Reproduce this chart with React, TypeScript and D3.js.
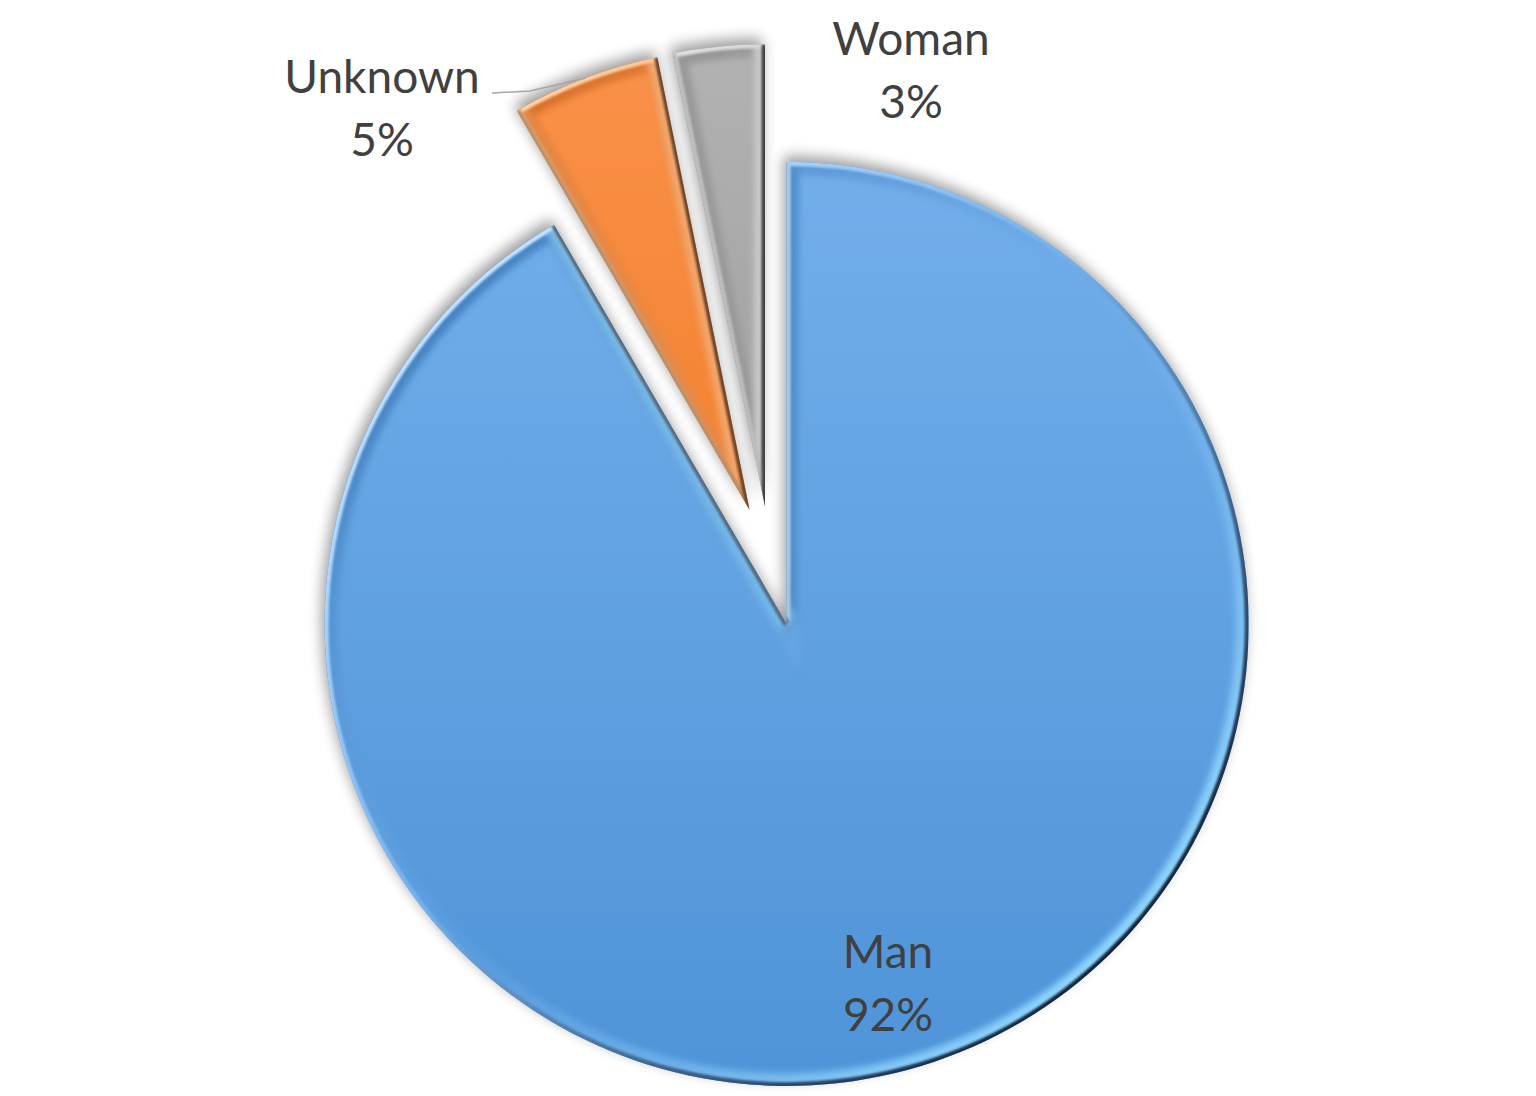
import React from "react";
import * as d3 from "d3";

// ---- data ----
const categories = ["Man", "Unknown", "Woman"];
const shares = [91.6, 5.2, 3.2];

// ---- styles (per slice) ----
const fillTop = ["#72AEEA", "#FA9149", "#B2B2B2"];
const fillBottom = ["#4E94D8", "#F2822F", "#A0A0A0"];
const rimLight = ["#C4E4FF", "#FFD3A8", "#EAEAEA"];
const rimDark = ["#12243A", "#431E06", "#202020"];
const bandLightSide = ["#4683C2", "#D46F2A", "#888888"];
const bandDarkSide = ["#8ED6FF", "#FFB67C", "#D4D4D4"];

// ---- layout ----
const W = 1536;
const H = 1096;
const CX = 771;
const CY = 566;
const R = 462;
const EXPLODE = 60;
const labelBaselines: [number, number][] = [
  [888, 968],
  [382, 93],
  [911, 55],
];
const LINE_GAP = 63;
const FONT = 46;

const L = [-Math.SQRT1_2, -Math.SQRT1_2]; // light from top-left

function shade(nx: number, ny: number, light: string, dark: string) {
  const s = nx * L[0] + ny * L[1];
  return d3.interpolateRgb(dark, light)((s + 1) / 2);
}

export default function App() {
  const total = d3.sum(shares);
  const pie = d3.pie<number>().sort(null).value((d) => d)(shares);
  const arcGen = d3.arc<d3.PieArcDatum<number>>().innerRadius(0).outerRadius(R);
  const fmt = d3.format(".0%");

  const slices = pie.map((d, i) => {
    const mid = (d.startAngle + d.endAngle) / 2;
    const ox = CX + EXPLODE * Math.sin(mid);
    const oy = CY - EXPLODE * Math.cos(mid);
    return { d, i, mid, ox, oy, path: arcGen(d) as string };
  });

  const unk = slices[1];
  const leaderEnd: [number, number] = [
    unk.ox + R * Math.sin(unk.mid),
    unk.oy - R * Math.cos(unk.mid),
  ];
  const leader = d3.line()([
    [labelBaselines[1][0] + 110, labelBaselines[1][1]],
    [labelBaselines[1][0] + 148, labelBaselines[1][1] - 2],
    leaderEnd,
  ]);

  const g = R * Math.SQRT1_2;

  return (
    <svg
      width={W}
      height={H}
      style={{ position: "absolute", left: 0, top: 0, background: "#fff" }}
    >
      <defs>
        <filter id="shadow" filterUnits="userSpaceOnUse" x={-700} y={-700} width={1400} height={1400}>
          <feGaussianBlur stdDeviation={7} />
        </filter>
        <filter id="soft" filterUnits="userSpaceOnUse" x={-700} y={-700} width={1400} height={1400}>
          <feGaussianBlur stdDeviation={3} />
        </filter>
        <filter id="soft1" filterUnits="userSpaceOnUse" x={-700} y={-700} width={1400} height={1400}>
          <feGaussianBlur stdDeviation={0.8} />
        </filter>
        {slices.map(({ i, path }) => (
          <React.Fragment key={i}>
            <linearGradient id={`fill${i}`} x1={0} y1={0} x2={0} y2={1}>
              <stop offset="0%" stopColor={fillTop[i]} />
              <stop offset="100%" stopColor={fillBottom[i]} />
            </linearGradient>
            <linearGradient id={`rim${i}`} gradientUnits="userSpaceOnUse" x1={-g} y1={-g} x2={g} y2={g}>
              <stop offset="0%" stopColor={rimLight[i]} />
              <stop offset="45%" stopColor={fillTop[i]} />
              <stop offset="100%" stopColor={rimDark[i]} />
            </linearGradient>
            <linearGradient id={`band${i}`} gradientUnits="userSpaceOnUse" x1={-g} y1={-g} x2={g} y2={g}>
              <stop offset="0%" stopColor={bandLightSide[i]} />
              <stop offset="50%" stopColor={fillTop[i]} stopOpacity={0.2} />
              <stop offset="100%" stopColor={bandDarkSide[i]} />
            </linearGradient>
            <clipPath id={`clip${i}`}>
              <path d={path} />
            </clipPath>
          </React.Fragment>
        ))}
      </defs>

      {/* shadows */}
      {slices.map(({ i, ox, oy, path }) => (
        <g key={`s${i}`} transform={`translate(${ox - 3},${oy - 6})`}>
          <path d={path} fill="#000" opacity={0.38} filter="url(#shadow)" />
        </g>
      ))}

      {/* slices */}
      {slices.map(({ d, i, ox, oy, path }) => {
        const a0 = d.startAngle;
        const a1 = d.endAngle;
        const p0: [number, number] = [R * Math.sin(a0), -R * Math.cos(a0)];
        const p1: [number, number] = [R * Math.sin(a1), -R * Math.cos(a1)];
        const n0: [number, number] = [-Math.cos(a0), -Math.sin(a0)];
        const n1: [number, number] = [Math.cos(a1), Math.sin(a1)];
        const edges = [
          { p: p0, n: n0 },
          { p: p1, n: n1 },
        ];
        return (
          <g key={`p${i}`} transform={`translate(${ox},${oy})`}>
            <path d={path} fill={`url(#fill${i})`} />
            <g clipPath={`url(#clip${i})`}>
              <g filter="url(#soft)">
                <path d={path} fill="none" stroke={`url(#band${i})`} strokeWidth={26} />
                {edges.map((e, k) => (
                  <line
                    key={k}
                    x1={0}
                    y1={0}
                    x2={e.p[0]}
                    y2={e.p[1]}
                    stroke={shade(-e.n[0], -e.n[1], bandDarkSide[i], bandLightSide[i])}
                    strokeWidth={22}
                  />
                ))}
              </g>
              <g filter="url(#soft1)">
                <path d={path} fill="none" stroke={`url(#rim${i})`} strokeWidth={8} />
                {edges.map((e, k) => (
                  <line
                    key={k}
                    x1={0}
                    y1={0}
                    x2={e.p[0]}
                    y2={e.p[1]}
                    stroke={shade(e.n[0], e.n[1], rimLight[i], rimDark[i])}
                    strokeWidth={7}
                  />
                ))}
              </g>
            </g>
          </g>
        );
      })}

      {/* leader line */}
      <path d={leader as string} fill="none" stroke="#A6A6A6" strokeWidth={1.5} />

      {/* labels */}
      {slices.map(({ d, i }) => (
        <text
          key={`t${i}`}
          x={labelBaselines[i][0]}
          y={labelBaselines[i][1]}
          textAnchor="middle"
          fontFamily="Lato, 'Open Sans', sans-serif"
          fontSize={FONT}
          fill="#404040"
        >
          <tspan x={labelBaselines[i][0]}>{categories[i]}</tspan>
          <tspan x={labelBaselines[i][0]} dy={LINE_GAP}>
            {fmt(d.value / total)}
          </tspan>
        </text>
      ))}
    </svg>
  );
}
